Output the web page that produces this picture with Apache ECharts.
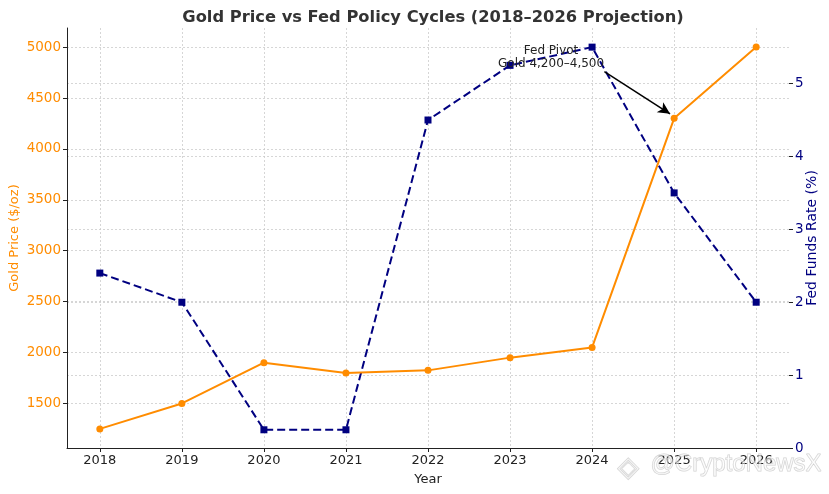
<!DOCTYPE html>
<html><head><meta charset="utf-8">
<script src="https://cdn.jsdelivr.net/npm/echarts@6/dist/echarts.min.js"></script>
<style>html,body{margin:0;padding:0;background:#fff}#c{width:829px;height:494px}</style>
</head><body><div id="c"></div>
<script>
const years = [2018, 2019, 2020, 2021, 2022, 2023, 2024, 2025, 2026];
const goldPrice = [1250, 1500, 1900, 1800, 1825, 1950, 2050, 4300, 5000];
const fedRate = [2.4, 2.0, 0.25, 0.25, 4.5, 5.25, 5.5, 3.5, 2.0];
const goldTicks = [1500, 2000, 2500, 3000, 3500, 4000, 4500, 5000];
const rateTicks = [0, 1, 2, 3, 4, 5];
const annotationText = 'Fed Pivot\nGold 4,200–4,500';
const annotationPos = [2023.5, 4900];
const arrowFrom = [2024.15, 4760];
const arrowTo = [2024.95, 4345];

const GOLD = '#ff8c00', NAVY = '#000080';
const FONT = 'DejaVu Sans';
const chart = echarts.init(document.getElementById('c'), null, {renderer: 'canvas'});
const gridLine = {show: true, lineStyle: {color: '#cccccc', type: [2, 2], width: 0.8}};
chart.setOption({
  animation: false,
  textStyle: {fontFamily: FONT},
  title: {
    text: 'Gold Price vs Fed Policy Cycles (2018–2026 Projection)',
    left: 428, top: 5, textAlign: 'center',
    textStyle: {fontFamily: FONT, fontSize: 16.3, fontWeight: 'bold', color: '#333'}
  },
  grid: {left: 67, right: 40, top: 28, bottom: 46, outerBoundsMode: 'none', containLabel: false},
  xAxis: {
    type: 'value', min: 2017.6, max: 2026.4,
    name: 'Year', nameLocation: 'middle', nameGap: 25, nameMoveOverlap: false,
    nameTextStyle: {fontFamily: FONT, fontSize: 13, color: '#222'},
    axisLine: {show: true, onZero: false, lineStyle: {color: '#222', width: 1}},
    axisTick: {show: true, customValues: years, length: 4, lineStyle: {color: '#222'}},
    axisLabel: {customValues: years, color: '#222', fontSize: 13, margin: 6, formatter: v => String(v)},
    splitLine: gridLine
  },
  yAxis: [{
    type: 'value', min: 1062.5, max: 5187.5, position: 'left',
    name: 'Gold Price ($/oz)', nameLocation: 'middle', nameGap: 46, nameMoveOverlap: false,
    nameTextStyle: {fontFamily: FONT, fontSize: 13, color: GOLD},
    axisLine: {show: true, lineStyle: {color: '#222', width: 1}},
    axisTick: {show: true, customValues: goldTicks, length: 4, lineStyle: {color: '#222'}},
    axisLabel: {customValues: goldTicks, color: GOLD, fontSize: 13.5, margin: 6, formatter: v => String(v)},
    splitLine: gridLine
  }, {
    type: 'value', min: 0, max: 5.7625, position: 'right',
    name: 'Fed Funds Rate (%)', nameLocation: 'middle', nameGap: 16, nameRotate: 90, nameMoveOverlap: false,
    nameTextStyle: {fontFamily: FONT, fontSize: 14, color: NAVY},
    axisLine: {show: false},
    axisTick: {show: true, customValues: rateTicks, length: 4, lineStyle: {color: '#222'}},
    axisLabel: {customValues: rateTicks, color: NAVY, fontSize: 13.5, margin: 6, formatter: v => String(v)},
    splitLine: gridLine
  }],
  series: [{
    name: 'Fed Funds Rate', type: 'line', yAxisIndex: 1,
    data: years.map((y, i) => [y, fedRate[i]]),
    symbol: 'rect', symbolSize: 7,
    itemStyle: {color: NAVY},
    lineStyle: {color: NAVY, width: 2, type: [8, 4]},
    z: 2
  }, {
    name: 'Gold Price', type: 'line', yAxisIndex: 0,
    data: years.map((y, i) => [y, goldPrice[i]]),
    symbol: 'circle', symbolSize: 7,
    itemStyle: {color: GOLD},
    lineStyle: {color: GOLD, width: 2},
    z: 3,
    markLine: {
      silent: true, symbol: ['none', 'arrow'], symbolSize: [9, 12],
      label: {show: false},
      lineStyle: {color: '#000', width: 1.5, type: 'solid'},
      data: [[{coord: arrowFrom}, {coord: arrowTo}]]
    },
    markPoint: {
      silent: true, symbol: 'circle', symbolSize: 0,
      data: [{coord: annotationPos, value: ''}],
      label: {
        show: true, formatter: annotationText, position: 'inside',
        color: '#222', fontSize: 12, fontFamily: FONT, lineHeight: 13, align: 'center'
      }
    }
  }],
  graphic: [{
    type: 'text', left: 650, top: 452, z: 100,
    style: {text: '@CryptoNewsX', fontSize: 24, fontFamily: 'Liberation Sans',
      fill: 'rgba(255,255,255,0.5)', stroke: 'rgba(170,170,170,0.55)', lineWidth: 1}
  }, {
    type: 'text', left: 617, top: 454, z: 100,
    style: {text: '◈', fontSize: 28, fontFamily: FONT,
      fill: 'rgba(255,255,255,0.5)', stroke: 'rgba(170,170,170,0.55)', lineWidth: 1}
  }]
});
</script></body></html>
